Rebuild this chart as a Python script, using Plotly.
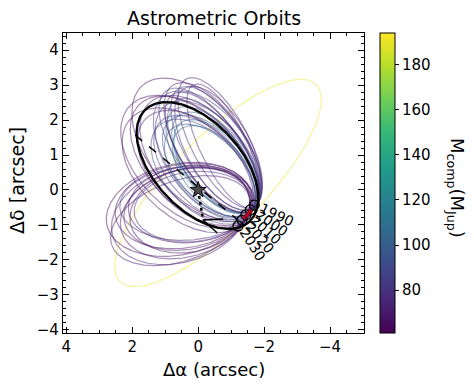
import numpy as np
import plotly.graph_objects as go
from plotly.colors import sample_colorscale

FONT = "DejaVu Sans"
MASS_MIN, MASS_MAX = 61.0, 194.0

# ---------------- orbit family 1 (elongated towards upper left) ----------------
# each orbit: anchor point it passes through (arcsec), semi-axes (arcsec),
# position angle of major axis (deg), phase at anchor (deg), companion mass (Mjup)
g1_anchor_ra = [-1.62, -1.58, -1.66, -1.60, -1.68, -1.61, -1.64, -1.57, -1.67, -1.62, -1.65, -1.59,
                -1.66, -1.63, -1.64, -1.60, -1.66, -1.62, -1.70, -1.55, -1.63, -1.69, -1.58, -1.65]
g1_anchor_dec = [-0.62, -0.70, -0.55, -0.66, -0.50, -0.64, -0.58, -0.72, -0.52, -0.61, -0.56, -0.68,
                 -0.53, -0.60, -0.57, -0.65, -0.54, -0.62, -0.48, -0.74, -0.60, -0.50, -0.69, -0.57]
g1_A = [2.45, 2.40, 2.15, 2.30, 2.00, 2.20, 2.15, 2.10, 2.05, 2.00, 1.95, 1.90,
        1.85, 1.80, 1.75, 1.70, 1.65, 1.60, 2.10, 2.28, 2.12, 1.98, 1.88, 2.05]
g1_B = [1.40, 1.45, 1.00, 1.35, 0.95, 1.30, 0.95, 1.25, 0.90, 1.15, 0.90, 1.05,
        0.95, 1.00, 0.90, 0.95, 0.85, 0.90, 0.85, 1.40, 1.20, 0.70, 1.10, 0.90]
g1_theta = [47, 40, 55, 43, 58, 45, 52, 41, 56, 48, 52, 44,
            48, 45, 50, 44, 47, 46, 60, 38, 50, 62, 42, 53]
g1_phase = [180, 178, 181, 176, 180, 179, 181, 177, 181, 180, 181, 178,
            182, 181, 180, 179, 181, 180, 181, 175, 181, 181, 177, 181]
g1_mass = [66, 69, 72, 64, 75, 68, 80, 71, 85, 78, 92, 83,
           100, 95, 105, 98, 110, 108, 74, 67, 88, 76, 90, 70]

# ---------------- orbit family 2 (wide, towards lower left) ----------------
g2_anchor_ra = [-1.45, -1.42, -1.48, -1.40, -1.50, -1.44, -1.38, -1.47, -1.52, -1.41]
g2_anchor_dec = [-0.80, -0.84, -0.76, -0.88, -0.72, -0.82, -0.90, -0.78, -0.70, -0.86]
g2_A = [2.23, 2.10, 2.00, 1.90, 2.15, 1.95, 2.05, 1.85, 2.20, 1.80]
g2_B = [1.30, 1.20, 1.25, 1.10, 1.35, 1.15, 1.05, 1.20, 1.15, 1.00]
g2_theta = [-11, -8, -14, -5, -16, -10, -3, -12, -18, -6]
g2_phase = [209, 212, 206, 214, 205, 210, 215, 208, 204, 213]
g2_mass = [63, 67, 70, 65, 73, 69, 76, 64, 71, 78]

# ---------------- massive outlier orbit ----------------
big_center = [-0.60, 0.20]
big_axes = [4.10, 1.35]
big_theta = 137
big_mass = 190

# ---------------- best-fit orbit ----------------
best_center = [0.02, 0.70]
best_axes = [2.25, 1.28]
best_theta = 44
nodes_ra = [1.91, -1.21]
nodes_dec = [1.57, -0.86]
peri_ra = [0.0, -0.15]
peri_dec = [0.0, -0.86]
arrow_ra = [-0.76, -0.15, -0.58]
arrow_dec = [-0.83, -0.86, -1.23]

# ---------------- epochs / data ----------------
epoch_years = ["1990", "2000", "2010", "2020", "2030"]
epoch_ra = [-1.70, -1.58, -1.45, -1.33, -1.21]
epoch_dec = [-0.43, -0.57, -0.71, -0.86, -1.03]
label_ra = [-2.40, -2.24, -2.06, -1.88, -1.67]
label_dec = [-0.71, -0.94, -1.14, -1.37, -1.56]
label_angle = [25, 34, 42, 50, 58]
data_ra = [-1.40, -1.46, -1.52, -1.58]
data_dec = [-0.79, -0.73, -0.67, -0.61]


def ellipse(cx, cy, a, b, th_deg, n=361):
    t = np.linspace(0, 2 * np.pi, n)
    th = np.radians(th_deg)
    x = cx + a * np.cos(t) * np.cos(th) - b * np.sin(t) * np.sin(th)
    y = cy + a * np.cos(t) * np.sin(th) + b * np.sin(t) * np.cos(th)
    return x, y


def center_from_anchor(ax, ay, a, b, th_deg, ph_deg):
    th, ph = np.radians(th_deg), np.radians(ph_deg)
    dx = a * np.cos(ph) * np.cos(th) - b * np.sin(ph) * np.sin(th)
    dy = a * np.cos(ph) * np.sin(th) + b * np.sin(ph) * np.cos(th)
    return ax - dx, ay - dy


def mass_color(m):
    return sample_colorscale("Viridis", [(m - MASS_MIN) / (MASS_MAX - MASS_MIN)])[0]


fig = go.Figure()

# big yellow orbit
x, y = ellipse(big_center[0], big_center[1], big_axes[0], big_axes[1], big_theta)
fig.add_trace(go.Scatter(x=x, y=y, mode="lines", opacity=0.45,
                         line=dict(color=mass_color(big_mass), width=1.2), hoverinfo="skip"))

for fam in [(g2_anchor_ra, g2_anchor_dec, g2_A, g2_B, g2_theta, g2_phase, g2_mass),
            (g1_anchor_ra, g1_anchor_dec, g1_A, g1_B, g1_theta, g1_phase, g1_mass)]:
    for ax_, ay_, a, b, th, ph, m in zip(*fam):
        cx, cy = center_from_anchor(ax_, ay_, a, b, th, ph)
        x, y = ellipse(cx, cy, a, b, th)
        fig.add_trace(go.Scatter(x=x, y=y, mode="lines", opacity=0.48,
                                 line=dict(color=mass_color(m), width=1.2), hoverinfo="skip"))

# best orbit
x, y = ellipse(best_center[0], best_center[1], best_axes[0], best_axes[1], best_theta)
fig.add_trace(go.Scatter(x=x, y=y, mode="lines", line=dict(color="black", width=2.4)))
fig.add_trace(go.Scatter(x=nodes_ra, y=nodes_dec, mode="lines",
                         line=dict(color="black", width=1.5, dash="dash")))
fig.add_trace(go.Scatter(x=peri_ra, y=peri_dec, mode="lines",
                         line=dict(color="black", width=2.5, dash="dot")))
fig.add_trace(go.Scatter(x=arrow_ra, y=arrow_dec, mode="lines",
                         line=dict(color="black", width=1.5)))

# star
fig.add_trace(go.Scatter(x=[0], y=[0], mode="markers",
                         marker=dict(symbol="star", size=12, color="#4a4a4a",
                                     line=dict(color="black", width=1))))
# epoch circles
fig.add_trace(go.Scatter(x=epoch_ra, y=epoch_dec, mode="markers",
                         marker=dict(symbol="circle-open", size=10, color="black",
                                     line=dict(width=1.3))))
fig.add_trace(go.Scatter(x=data_ra, y=data_dec, mode="markers",
                         marker=dict(symbol="circle", size=4, color="#b00020")))

# colorbar carrier
fig.add_trace(go.Scatter(
    x=[None], y=[None], mode="markers",
    marker=dict(colorscale="Viridis", cmin=MASS_MIN, cmax=MASS_MAX, color=[100],
                showscale=True,
                colorbar=dict(thickness=15, len=300, lenmode="pixels", x=1.053, xanchor="left",
                              y=0.5, yanchor="middle", outlinewidth=1, outlinecolor="black",
                              tickvals=[80, 100, 120, 140, 160, 180], ticks="outside",
                              ticklen=4, tickcolor="black", xpad=0, ypad=0,
                              tickfont=dict(size=15, family=FONT, color="black")))))

for yr, lx, ly, ang in zip(epoch_years, label_ra, label_dec, label_angle):
    fig.add_annotation(x=lx, y=ly, xref="x", yref="y", text=yr, showarrow=False,
                       textangle=ang, font=dict(size=14, family=FONT, color="black"))

fig.add_annotation(x=0.5, y=1.05, xref="paper", yref="paper", text="Astrometric Orbits",
                   showarrow=False, yanchor="middle",
                   font=dict(size=19, family=FONT, color="black"))
fig.add_annotation(x=0.5, y=-0.12, xref="paper", yref="paper", text="Δα (arcsec)",
                   showarrow=False, yanchor="middle",
                   font=dict(size=18, family=FONT, color="black"))
fig.add_annotation(x=-0.153, y=0.51, xref="paper", yref="paper", text="Δδ [arcsec]",
                   showarrow=False, textangle=-90, xanchor="center", yanchor="middle",
                   font=dict(size=19, family=FONT, color="black"))
fig.add_annotation(x=1.306, y=0.483, xref="paper", yref="paper",
                   text="M<sub>comp</sub>(M<sub>Jup</sub>)",
                   showarrow=False, textangle=90, xanchor="center", yanchor="middle",
                   font=dict(size=18, family=FONT, color="black"))

axis_common = dict(showgrid=False, zeroline=False, showline=True, linecolor="black", linewidth=1.3,
                   mirror="allticks", ticks="inside", ticklen=6, tickwidth=1.2, tickcolor="black",
                   tickfont=dict(size=15, family=FONT, color="black"))
fig.update_xaxes(range=[4.1, -5.03], tick0=0, dtick=2,
                 minor=dict(ticks="inside", dtick=0.5, ticklen=3, tickwidth=1, tickcolor="black"),
                 **axis_common)
fig.update_yaxes(range=[-4.09, 4.49], tick0=0, dtick=1,
                 minor=dict(ticks="inside", dtick=0.2, ticklen=3, tickwidth=1, tickcolor="black"),
                 **axis_common)

fig.update_layout(width=474, height=389, margin=dict(l=63, r=110, t=33, b=56),
                  plot_bgcolor="white", paper_bgcolor="white", showlegend=False,
                  font=dict(family=FONT, color="black"))

fig.write_html("out.html", config={"displayModeBar": False},
               post_script="document.body.style.margin='0px';document.body.style.padding='0px';")
